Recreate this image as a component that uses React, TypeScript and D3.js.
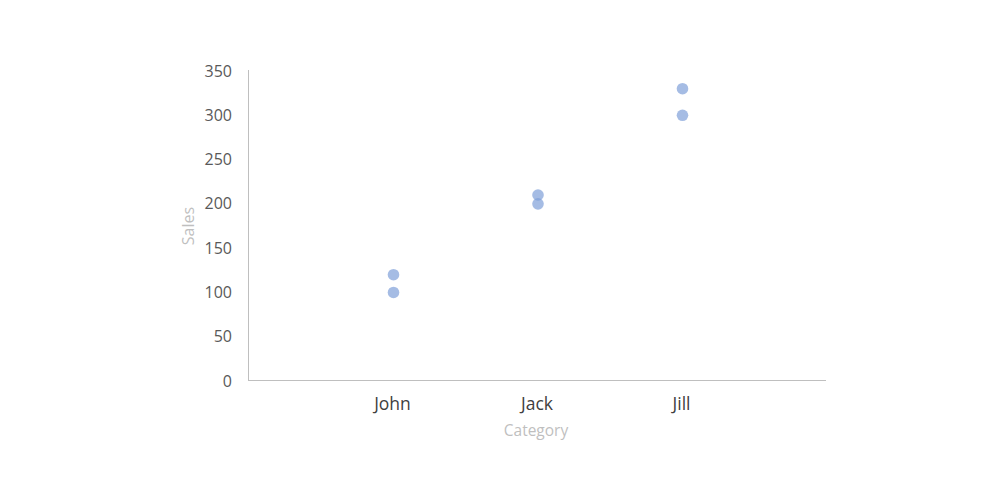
import * as d3 from "d3";
import { useEffect, useRef } from "react";

const categories = ["John", "Jack", "Jill"];
const seriesA = [100, 200, 300];
const seriesB = [120, 210, 330];
const yTicks = [0, 50, 100, 150, 200, 250, 300, 350];

const App = () => {
  const svgRef = useRef<SVGSVGElement | null>(null);

  useEffect(() => {
    if (!svgRef.current) return;
    const width = 1002;
    const height = 499;
    const margin = { top: 70, right: 176, bottom: 119, left: 248 };
    const font = "'Open Sans', 'Noto Sans', sans-serif";

    const svg = d3.select(svgRef.current);
    svg.selectAll("*").remove();

    // x: categories sit at 1..3 on a 0..4 range
    const x = d3
      .scaleLinear()
      .domain([0, categories.length + 1])
      .range([margin.left, width - margin.right]);
    const y = d3
      .scaleLinear()
      .domain([0, 350])
      .range([height - margin.bottom, margin.top]);

    // axis lines
    svg
      .append("line")
      .attr("x1", margin.left + 0.5)
      .attr("x2", margin.left + 0.5)
      .attr("y1", margin.top)
      .attr("y2", height - margin.bottom)
      .attr("stroke", "#bfbfbf");
    svg
      .append("line")
      .attr("x1", margin.left)
      .attr("x2", width - margin.right)
      .attr("y1", height - margin.bottom + 0.5)
      .attr("y2", height - margin.bottom + 0.5)
      .attr("stroke", "#bfbfbf");

    // y tick labels
    svg
      .append("g")
      .selectAll("text")
      .data(yTicks)
      .join("text")
      .attr("x", margin.left - 16)
      .attr("y", (d) => y(d) + 1)
      .attr("dy", "0.35em")
      .attr("text-anchor", "end")
      .attr("font-family", font)
      .attr("font-size", 16)
      .attr("fill", "#595959")
      .text((d) => d);

    // x tick labels
    svg
      .append("g")
      .selectAll("text")
      .data(categories)
      .join("text")
      .attr("x", (_, i) => x(i + 1))
      .attr("y", height - margin.bottom + 30)
      .attr("text-anchor", "middle")
      .attr("font-family", font)
      .attr("font-size", 17.5)
      .attr("fill", "#404040")
      .text((d) => d);

    // axis titles
    svg
      .append("text")
      .attr("x", x(2) - 1)
      .attr("y", height - margin.bottom + 56)
      .attr("text-anchor", "middle")
      .attr("font-family", font)
      .attr("font-size", 15.5)
      .attr("fill", "#bfbfbf")
      .text("Category");
    svg
      .append("text")
      .attr("transform", `translate(194,${y(175) + 1}) rotate(-90)`)
      .attr("text-anchor", "middle")
      .attr("font-family", font)
      .attr("font-size", 16)
      .attr("fill", "#bfbfbf")
      .text("Sales");

    // points
    const points = categories.flatMap((c, i) => [
      { i, v: seriesA[i] },
      { i, v: seriesB[i] },
    ]);
    svg
      .append("g")
      .selectAll("circle")
      .data(points)
      .join("circle")
      .attr("cx", (d) => x(d.i + 1) + 1)
      .attr("cy", (d) => y(d.v) + 1)
      .attr("r", 5.8)
      .attr("fill", "#7f9fd9")
      .attr("opacity", 0.7);
  }, []);

  return (
    <svg
      ref={svgRef}
      width={1002}
      height={499}
      style={{ position: "absolute", left: 0, top: 0, background: "#fff" }}
    ></svg>
  );
};

export default App;
